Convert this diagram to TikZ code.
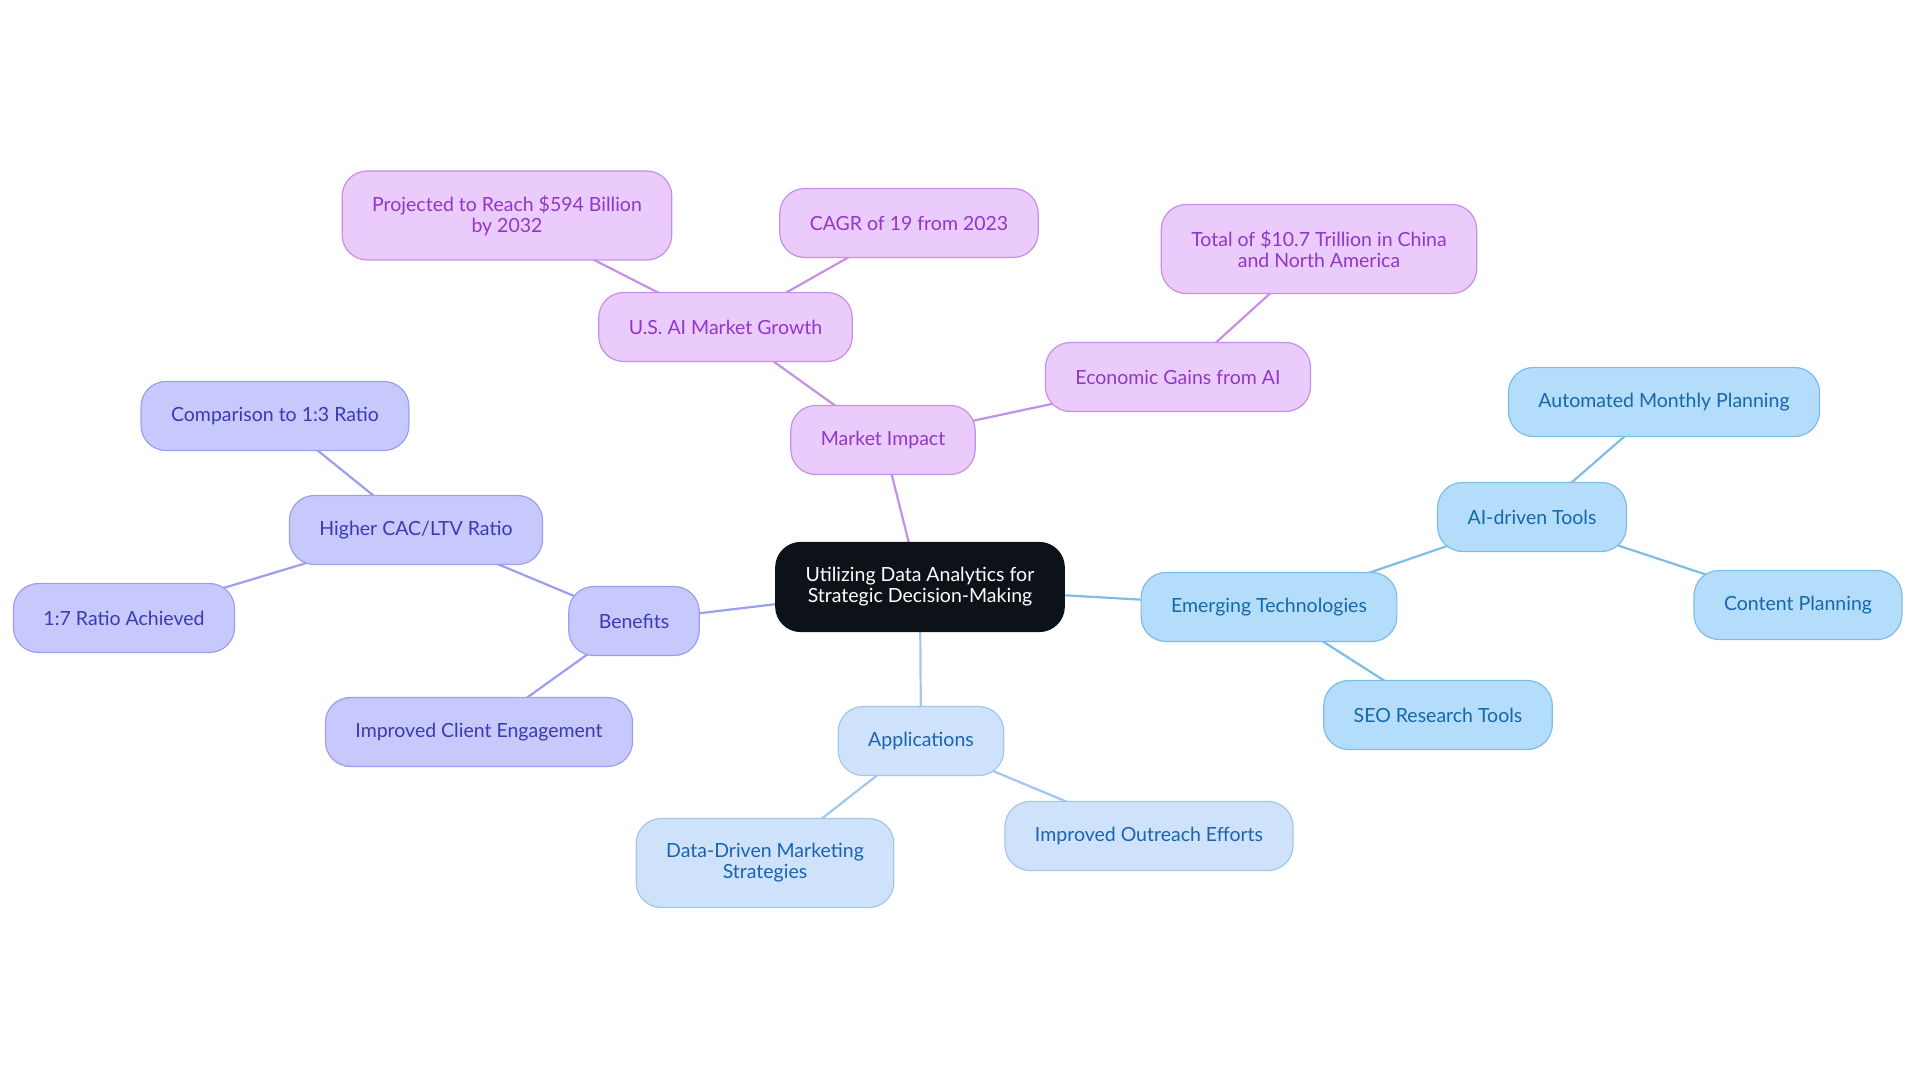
\documentclass[tikz,border=0pt]{standalone}
\usepackage{fontspec}
\setmainfont{Lato}
\usetikzlibrary{backgrounds}
\definecolor{pfill}{HTML}{EBCAFC}
\definecolor{pline}{HTML}{C690E6}
\definecolor{ptext}{HTML}{8F38C6}
\definecolor{bfill}{HTML}{C7C9FC}
\definecolor{bline}{HTML}{9C9EEE}
\definecolor{btext}{HTML}{3A3AB4}
\definecolor{afill}{HTML}{CEE3FB}
\definecolor{aline}{HTML}{A4C6EC}
\definecolor{atext}{HTML}{1C62B2}
\definecolor{efill}{HTML}{B4DCFB}
\definecolor{eline}{HTML}{7EBDE8}
\definecolor{etext}{HTML}{1568AA}
\definecolor{rootfill}{HTML}{0D1219}

\begin{document}
\begin{tikzpicture}[x=1pt,y=-1pt,
    box/.style={rounded corners=25pt,minimum height=69pt,inner xsep=30pt,
      align=center,font=\fontsize{19.5}{21}\selectfont,line width=1.2pt},
    rootbox/.style={box,fill=rootfill,draw=rootfill,text=white,minimum height=89pt},
    mkt/.style={box,fill=pfill,draw=pline,text=ptext},
    ben/.style={box,fill=bfill,draw=bline,text=btext},
    app/.style={box,fill=afill,draw=aline,text=atext},
    emt/.style={box,fill=efill,draw=eline,text=etext},
    tall/.style={minimum height=89pt},
    link/.style={line width=2.2pt}]
    \useasboundingbox (0,0) rectangle (1920,1083);
    % root
    \node[rootbox] (root) at (920,587) {Utilizing Data Analytics for\\Strategic Decision-Making};
    % market impact branch
    \node[mkt] (market) at (883,440) {Market Impact};
    \node[mkt] (usai) at (725.5,327) {U.S. AI Market Growth};
    \node[mkt,tall] (proj) at (507,215.5) {Projected to Reach \$594 Billion\\by 2032};
    \node[mkt] (cagr) at (909,223) {CAGR of 19 from 2023};
    \node[mkt] (econ) at (1178,377) {Economic Gains from AI};
    \node[mkt,tall] (total) at (1319,249) {Total of \$10.7 Trillion in China\\and North America};
    % benefits branch
    \node[ben] (benef) at (634,621) {Benefits};
    \node[ben] (cacltv) at (416,530) {Higher CAC/LTV Ratio};
    \node[ben] (comp) at (275,416) {Comparison to 1:3 Ratio};
    \node[ben] (ratio) at (124,618) {1:7 Ratio Achieved};
    \node[ben] (client) at (479,732) {Improved Client Engagement};
    % applications branch
    \node[app] (apps) at (921,741) {Applications};
    \node[app,tall] (ddm) at (765,863) {Data-Driven Marketing\\Strategies};
    \node[app] (outreach) at (1149,836) {Improved Outreach Efforts};
    % emerging technologies branch
    \node[emt] (emerg) at (1269,607) {Emerging Technologies};
    \node[emt] (aitools) at (1532,517) {AI-driven Tools};
    \node[emt] (monthly) at (1664,402) {Automated Monthly Planning};
    \node[emt] (content) at (1798,605) {Content Planning};
    \node[emt] (seo) at (1438,715) {SEO Research Tools};
    % connectors, behind the boxes
    \begin{pgfonlayer}{background}
      \draw[link,pline] (root.center) -- (market.center);
      \draw[link,pline] (market.center) -- (usai.center);
      \draw[link,pline] (usai.center) -- (proj.center);
      \draw[link,pline] (usai.center) -- (cagr.center);
      \draw[link,pline] (market.center) -- (econ.center);
      \draw[link,pline] (econ.center) -- (total.center);
      \draw[link,bline] (root.center) -- (benef.center);
      \draw[link,bline] (benef.center) -- (cacltv.center);
      \draw[link,bline] (cacltv.center) -- (comp.center);
      \draw[link,bline] (cacltv.center) -- (ratio.center);
      \draw[link,bline] (benef.center) -- (client.center);
      \draw[link,aline] (root.center) -- (apps.center);
      \draw[link,aline] (apps.center) -- (ddm.center);
      \draw[link,aline] (apps.center) -- (outreach.center);
      \draw[link,eline] (root.center) -- (emerg.center);
      \draw[link,eline] (emerg.center) -- (aitools.center);
      \draw[link,eline] (aitools.center) -- (monthly.center);
      \draw[link,eline] (aitools.center) -- (content.center);
      \draw[link,eline] (emerg.center) -- (seo.center);
    \end{pgfonlayer}
\end{tikzpicture}
\end{document}
